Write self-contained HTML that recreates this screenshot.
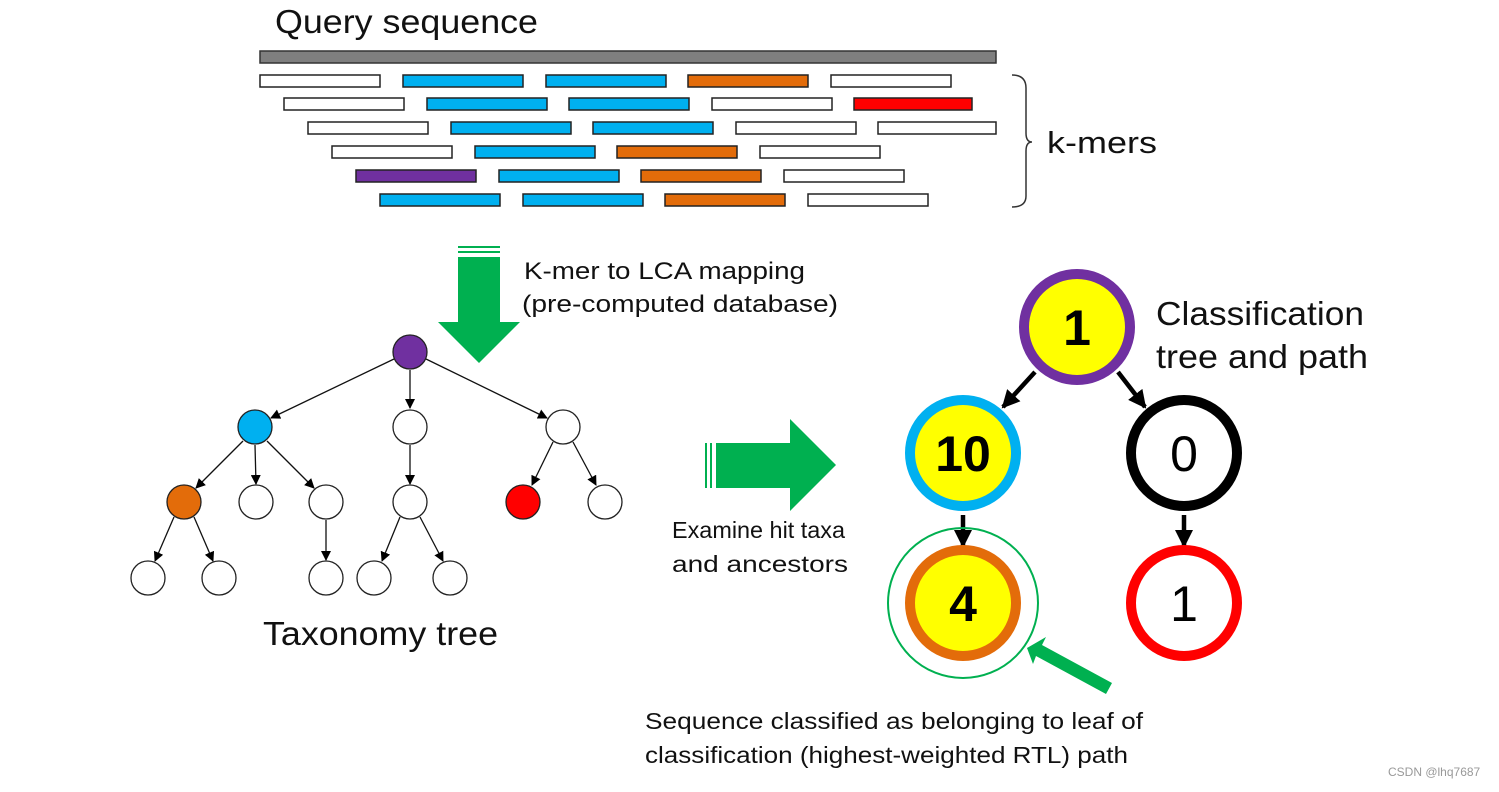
<!DOCTYPE html>
<html><head><style>
html,body{margin:0;padding:0;background:#fff;}
svg text{font-family:"Liberation Sans",Arial,sans-serif;}
</style></head><body>
<svg width="1499" height="787" viewBox="0 0 1499 787" xmlns="http://www.w3.org/2000/svg">
<defs>
<marker id="a" markerWidth="10" markerHeight="10" refX="9" refY="5" orient="auto" markerUnits="userSpaceOnUse"><path d="M0,0 L10,5 L0,10 z" fill="#000"/></marker>
<marker id="b" markerWidth="18" markerHeight="18" refX="16" refY="9" orient="auto" markerUnits="userSpaceOnUse"><path d="M0,0 L18,9 L0,18 z" fill="#000"/></marker>
</defs>
<text x="275" y="33" font-size="33" fill="#111" textLength="263" lengthAdjust="spacingAndGlyphs">Query sequence</text>
<rect x="260" y="51" width="736" height="12" fill="#7f7f7f" stroke="#333" stroke-width="1.5"/>
<g stroke="#222" stroke-width="1.5">
<rect x="260" y="75" width="120" height="12" fill="#fff"/><rect x="403" y="75" width="120" height="12" fill="#00b0f0"/><rect x="546" y="75" width="120" height="12" fill="#00b0f0"/><rect x="688" y="75" width="120" height="12" fill="#e36c0a"/><rect x="831" y="75" width="120" height="12" fill="#fff"/>
<rect x="284" y="98" width="120" height="12" fill="#fff"/><rect x="427" y="98" width="120" height="12" fill="#00b0f0"/><rect x="569" y="98" width="120" height="12" fill="#00b0f0"/><rect x="712" y="98" width="120" height="12" fill="#fff"/><rect x="854" y="98" width="118" height="12" fill="#ff0000"/>
<rect x="308" y="122" width="120" height="12" fill="#fff"/><rect x="451" y="122" width="120" height="12" fill="#00b0f0"/><rect x="593" y="122" width="120" height="12" fill="#00b0f0"/><rect x="736" y="122" width="120" height="12" fill="#fff"/><rect x="878" y="122" width="118" height="12" fill="#fff"/>
<rect x="332" y="146" width="120" height="12" fill="#fff"/><rect x="475" y="146" width="120" height="12" fill="#00b0f0"/><rect x="617" y="146" width="120" height="12" fill="#e36c0a"/><rect x="760" y="146" width="120" height="12" fill="#fff"/>
<rect x="356" y="170" width="120" height="12" fill="#7030a0"/><rect x="499" y="170" width="120" height="12" fill="#00b0f0"/><rect x="641" y="170" width="120" height="12" fill="#e36c0a"/><rect x="784" y="170" width="120" height="12" fill="#fff"/>
<rect x="380" y="194" width="120" height="12" fill="#00b0f0"/><rect x="523" y="194" width="120" height="12" fill="#00b0f0"/><rect x="665" y="194" width="120" height="12" fill="#e36c0a"/><rect x="808" y="194" width="120" height="12" fill="#fff"/>
</g>
<path d="M1012,75 Q1026,75 1026,88 L1026,133 Q1026,142 1032,142 Q1026,142 1026,151 L1026,196 Q1026,207 1012,207" fill="none" stroke="#333" stroke-width="1.5"/>
<text x="1047" y="153" font-size="31" fill="#111" textLength="110" lengthAdjust="spacingAndGlyphs">k-mers</text>
<g fill="#00b050">
<rect x="458" y="246" width="42" height="2"/><rect x="458" y="251" width="42" height="2"/>
<path d="M458,257 L500,257 L500,322 L520,322 L479,363 L438,322 L458,322 z"/>
<rect x="705" y="443" width="2" height="45"/><rect x="710" y="443" width="2" height="45"/>
<path d="M716,443 L790,443 L790,419 L836,465 L790,511 L790,488 L716,488 z"/>
</g>
<text x="524" y="279" font-size="24" fill="#111" textLength="281" lengthAdjust="spacingAndGlyphs">K-mer to LCA mapping</text>
<text x="522" y="312" font-size="24" fill="#111" textLength="316" lengthAdjust="spacingAndGlyphs">(pre-computed database)</text>
<text x="672" y="538" font-size="23" fill="#111" textLength="173" lengthAdjust="spacingAndGlyphs">Examine hit taxa</text>
<text x="672" y="572" font-size="23" fill="#111" textLength="176" lengthAdjust="spacingAndGlyphs">and ancestors</text>
<g stroke="#111" stroke-width="1.3" marker-end="url(#a)">
<line x1="394" y1="359" x2="271" y2="418"/>
<line x1="410" y1="370" x2="410" y2="408"/>
<line x1="426" y1="359" x2="547" y2="418"/>
<line x1="243" y1="441" x2="196" y2="488"/>
<line x1="255" y1="445" x2="256" y2="484"/>
<line x1="267" y1="441" x2="314" y2="488"/>
<line x1="410" y1="445" x2="410" y2="484"/>
<line x1="553" y1="442" x2="532" y2="485"/>
<line x1="573" y1="442" x2="596" y2="485"/>
<line x1="174" y1="517" x2="155" y2="561"/>
<line x1="194" y1="517" x2="213" y2="561"/>
<line x1="326" y1="520" x2="326" y2="560"/>
<line x1="400" y1="517" x2="382" y2="561"/>
<line x1="420" y1="517" x2="443" y2="561"/>
</g>
<g stroke="#222" stroke-width="1.3">
<circle cx="410" cy="352" r="17" fill="#7030a0"/>
<circle cx="255" cy="427" r="17" fill="#00b0f0"/><circle cx="410" cy="427" r="17" fill="#fff"/><circle cx="563" cy="427" r="17" fill="#fff"/>
<circle cx="184" cy="502" r="17" fill="#e36c0a"/><circle cx="256" cy="502" r="17" fill="#fff"/><circle cx="326" cy="502" r="17" fill="#fff"/><circle cx="410" cy="502" r="17" fill="#fff"/><circle cx="523" cy="502" r="17" fill="#ff0000"/><circle cx="605" cy="502" r="17" fill="#fff"/>
<circle cx="148" cy="578" r="17" fill="#fff"/><circle cx="219" cy="578" r="17" fill="#fff"/><circle cx="326" cy="578" r="17" fill="#fff"/><circle cx="374" cy="578" r="17" fill="#fff"/><circle cx="450" cy="578" r="17" fill="#fff"/>
</g>
<text x="263" y="645" font-size="33" fill="#111" textLength="235" lengthAdjust="spacingAndGlyphs">Taxonomy tree</text>
<g stroke="#000" stroke-width="4.5" marker-end="url(#b)">
<line x1="1035" y1="372" x2="1003" y2="407"/>
<line x1="1118" y1="372" x2="1145" y2="407"/>
<line x1="963" y1="515" x2="963" y2="546"/>
<line x1="1184" y1="515" x2="1184" y2="546"/>
</g>
<g stroke-width="10">
<circle cx="1077" cy="327" r="53" fill="#ffff00" stroke="#7030a0"/>
<circle cx="963" cy="453" r="53" fill="#ffff00" stroke="#00b0f0"/>
<circle cx="1184" cy="453" r="53" fill="#fff" stroke="#000"/>
<circle cx="963" cy="603" r="53" fill="#ffff00" stroke="#e36c0a"/>
<circle cx="1184" cy="603" r="53" fill="#fff" stroke="#ff0000"/>
</g>
<circle cx="963" cy="603" r="75" fill="none" stroke="#00b050" stroke-width="2"/>
<g font-size="50" text-anchor="middle" fill="#000">
<text x="1077" y="345" font-weight="bold">1</text>
<text x="963" y="471" font-weight="bold">10</text>
<text x="1184" y="471">0</text>
<text x="963" y="621" font-weight="bold">4</text>
<text x="1184" y="621">1</text>
</g>
<path d="M1027,648 L1046,637 L1042,645 L1112,683 L1106,694 L1036,656 L1033,664 z" fill="#00b050"/>
<text x="1156" y="325" font-size="33" fill="#111" textLength="208" lengthAdjust="spacingAndGlyphs">Classification</text>
<text x="1156" y="368" font-size="33" fill="#111" textLength="212" lengthAdjust="spacingAndGlyphs">tree and path</text>
<text x="645" y="729" font-size="23" fill="#111" textLength="498" lengthAdjust="spacingAndGlyphs">Sequence classified as belonging to leaf of</text>
<text x="645" y="763" font-size="23" fill="#111" textLength="483" lengthAdjust="spacingAndGlyphs">classification (highest-weighted RTL) path</text>
<text x="1388" y="776" font-size="12" fill="#999">CSDN @lhq7687</text>
</svg>
</body></html>
